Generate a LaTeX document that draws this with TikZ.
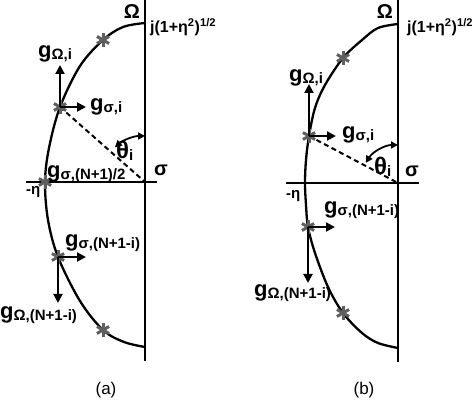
\documentclass[tikz,border=0pt]{standalone}
\usepackage{fontspec}
\setmainfont{Liberation Sans}
\usepackage{tikz}
\usetikzlibrary{positioning,arrows.meta}

\definecolor{astgray}{RGB}{95,95,95}
\newcommand{\gsub}[2]{#1{\fontsize{15}{15}\selectfont\raisebox{-2pt}{#2}}}

\begin{document}
\begin{tikzpicture}[x=1pt, y=1pt, >={Triangle[length=9pt,width=9pt]}]

% Define styles
\tikzstyle{axis} = [line width=2.6pt]
\tikzstyle{curve} = [line width=2.3pt]
\tikzstyle{vec} = [->, line width=2pt]
\tikzstyle{ray} = [line width=2pt, dash pattern=on 5pt off 3.5pt]
\tikzstyle{angarc} = [<->, >={Triangle[length=7pt,width=7pt]}, line width=1.8pt]
\tikzstyle{lbl} = [font=\fontsize{22}{22}\selectfont\bfseries, inner sep=0pt, anchor=west]
\tikzstyle{thlbl} = [font=\fontsize{24}{24}\selectfont\bfseries, inner sep=0pt, anchor=west]
\tikzstyle{axlbl} = [font=\fontsize{20}{20}\selectfont\bfseries, inner sep=0pt]
\tikzstyle{jlbl} = [font=\fontsize{16}{16}\selectfont\bfseries, inner sep=0pt, anchor=west]
\tikzstyle{etalbl} = [font=\fontsize{15}{15}\selectfont\bfseries, inner sep=0pt, anchor=west]
\tikzstyle{panel} = [font=\fontsize{17}{17}\selectfont, inner sep=0pt]
\tikzset{ast/.pic={\foreach \ang in {30,90,150}
  \draw[astgray, line width=3pt] (\ang:7pt) -- (\ang+180:7pt);}}

\useasboundingbox (0,0) rectangle (474,403);

% Panel (a)
\coordinate (oa) at (145,221);
\coordinate (ta) at (145,380);
\coordinate (ba) at (145,56);
\coordinate (sa1) at (103,363);
\coordinate (sa2) at (60,296);
\coordinate (sa3) at (45,221);
\coordinate (sa4) at (58,146);
\coordinate (sa5) at (103,73);
\coordinate (vat) at (145,403);
\coordinate (vab) at (145,42);
\coordinate (hal) at (26,221);
\coordinate (har) at (157,221);
\coordinate (gaup) at (60,338);
\coordinate (garight) at (86,296);
\coordinate (garight2) at (86,146);
\coordinate (gadown) at (58,100);

\draw[axis] (vat) -- (vab);
\draw[axis] (hal) -- (har);
\draw[curve] plot[smooth, tension=0.55] coordinates {(ta) (123,376) (sa1) (80,337) (sa2) (49,255) (sa3) (48,183) (sa4) (80,102) (sa5) (124,61) (ba)};
\draw[ray] (sa2) -- (oa);
\draw[angarc] ([shift={(90:46)}]oa) arc[start angle=90, end angle=131, radius=46];
\foreach \s in {sa1,sa2,sa3,sa4,sa5} \pic at (\s) {ast};
\draw[vec] (sa2) -- (gaup);
\draw[vec] (sa2) -- (garight);
\draw[vec] (sa4) -- (garight2);
\draw[vec] (sa4) -- (gadown);

\node[axlbl] (omegaa) at (132,391) {Ω};
\node[jlbl] (jmaxa) at (150,376) {j(1+η\textsuperscript{2})\textsuperscript{1/2}};
\node[lbl] (gomia) at (38,349) {\gsub{g}{Ω,i}};
\node[lbl] (gsigia) at (90,296) {\gsub{g}{σ,i}};
\node[thlbl] (thetaa) at (116,252) {\gsub{θ}{i}};
\node[axlbl, anchor=west] (sigmaa) at (154,233) {σ};
\node[lbl] (gsigmid) at (47,229) {\gsub{g}{σ,(N+1)/2}};
\node[etalbl] (etaa) at (26,211) {-η};
\node[lbl] (gsigna) at (65,160) {\gsub{g}{σ,(N+1-i)}};
\node[lbl] (gomna) at (0,88) {\gsub{g}{Ω,(N+1-i)}};
\node[panel] (capa) at (106,13) {(a)};

% Panel (b)
\coordinate (ob) at (398,220);
\coordinate (tb) at (398,379);
\coordinate (bb) at (398,55);
\coordinate (sb1) at (343,345);
\coordinate (sb2) at (309,267);
\coordinate (sb3) at (308,176);
\coordinate (sb4) at (343,90);
\coordinate (vbt) at (398,403);
\coordinate (vbb) at (398,41);
\coordinate (hbl) at (286,220);
\coordinate (hbr) at (419,220);
\coordinate (gbup) at (309,319);
\coordinate (gbright) at (336,267);
\coordinate (gbright2) at (335,176);
\coordinate (gbdown) at (308,120);

\draw[axis] (vbt) -- (vbb);
\draw[axis] (hbl) -- (hbr);
\draw[curve] plot[smooth, tension=0.55] coordinates {(tb) (378,375) (362,363) (sb1) (325,318) (315,295) (sb2) (306,243) (305,220) (306,198) (sb3) (315,150) (328,116) (sb4) (362,70) (378,60) (bb)};
\draw[ray] (sb2) -- (ob);
\draw[angarc] ([shift={(90:38)}]ob) arc[start angle=90, end angle=148, radius=38];
\foreach \s in {sb1,sb2,sb3,sb4} \pic at (\s) {ast};
\draw[vec] (sb2) -- (gbup);
\draw[vec] (sb2) -- (gbright);
\draw[vec] (sb3) -- (gbright2);
\draw[vec] (sb3) -- (gbdown);

\node[axlbl] (omegab) at (385,391) {Ω};
\node[jlbl] (jmaxb) at (407,376) {j(1+η\textsuperscript{2})\textsuperscript{1/2}};
\node[lbl] (gomib) at (289,325) {\gsub{g}{Ω,i}};
\node[lbl] (gsigib) at (342,268) {\gsub{g}{σ,i}};
\node[thlbl] (thetab) at (374,236) {\gsub{θ}{i}};
\node[axlbl, anchor=west] (sigmab) at (405,232) {σ};
\node[etalbl] (etab) at (286,207) {-η};
\node[lbl] (gsignb) at (324,193) {\gsub{g}{σ,(N+1-i)}};
\node[lbl] (gomnb) at (254,110) {\gsub{g}{Ω,(N+1-i)}};
\node[panel] (capb) at (364,13) {(b)};

\end{tikzpicture}
\end{document}
